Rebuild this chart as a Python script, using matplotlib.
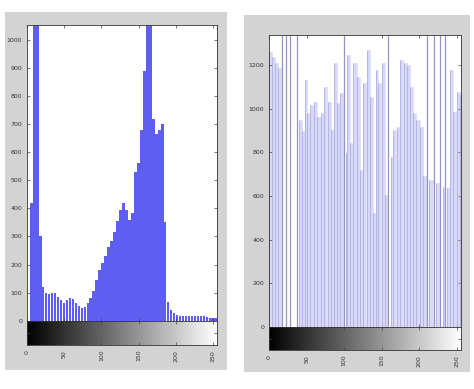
import numpy as np
import matplotlib
matplotlib.use('Agg')
import matplotlib.pyplot as plt
from matplotlib.patches import Rectangle

# 左图：原始图像直方图（每4个灰度级取一个值）
left_levels = list(range(0, 256, 4))
left_counts = [0, 420, 1200, 1200, 300, 120, 100, 95, 100, 100, 85, 74, 63, 72, 82, 78,
               62, 52, 45, 50, 63, 82, 105, 145, 180, 205, 230, 262, 285, 315, 355, 395,
               420, 395, 360, 385, 530, 560, 680, 890, 1200, 1150, 720, 665, 680, 700,
               350, 65, 38, 27, 20, 18, 16, 18, 15, 17, 15, 18, 16, 17, 14, 10, 8, 8]

# 右图：均衡化后的直方图（稀疏的灰度级）
right_levels = [0, 4, 8, 12, 17, 23, 28, 37, 40, 44, 48, 51, 55, 60, 64, 69, 73, 78, 82, 86,
                91, 95, 100, 102, 104, 108, 112, 117, 121, 125, 130, 134, 138, 142, 145, 150,
                154, 158, 162, 165, 170, 174, 179, 183, 187, 192, 196, 201, 205, 210, 213,
                219, 222, 227, 231, 234, 237, 241, 245, 250, 254]
right_counts = [1260, 1235, 1210, 1185, 2000, 2000, 2000, 2000, 948, 897, 1131, 980, 1017,
                1030, 963, 980, 1100, 1030, 902, 1208, 1025, 1070, 2000, 797, 1245, 843, 1208,
                1146, 720, 1117, 1270, 1055, 521, 1177, 1117, 1208, 604, 2000, 779, 902, 916,
                1223, 1208, 1200, 1100, 980, 948, 917, 690, 2000, 673, 2000, 660, 2000, 641,
                2000, 636, 1177, 985, 1078, 1060]

x_ticks = [0, 50, 100, 150, 200, 250]
left_yticks = list(range(0, 1001, 100))
right_yticks = list(range(0, 1201, 200))

W, H = 474, 389
fig = plt.figure(figsize=(W / 100, H / 100), dpi=100)
fig.patch.set_facecolor('white')


def fr(x0, y0, x1, y1):
    # 像素坐标 -> 图窗坐标
    return [x0 / W, 1 - y1 / H, (x1 - x0) / W, (y1 - y0) / H]


def style(ax):
    ax.tick_params(direction='in', length=2.5, width=0.5, colors='#444444',
                   labelsize=4.5, top=True, right=True, labelcolor='#333333')
    for s in ax.spines.values():
        s.set_linewidth(0.6)
        s.set_color('#333333')


# 灰色背景面板
for p in [fr(5, 12, 227, 370), fr(244, 15, 470, 372)]:
    fig.patches.append(Rectangle((p[0], p[1]), p[2], p[3], transform=fig.transFigure,
                                 facecolor='#d3d3d3', edgecolor='none', zorder=-5))

gradient = np.arange(256)[None, :]

# ---- 左图 ----
ax1 = fig.add_axes(fr(27, 25, 216.7, 320.7))
ax1.bar(left_levels, left_counts, width=3.5, align='edge', color='#5e5ef2', linewidth=0)
ax1.set_xlim(0, 255)
ax1.set_ylim(0, 1053)
ax1.set_xticks(x_ticks)
ax1.set_xticklabels([])
ax1.set_yticks(left_yticks)
style(ax1)

cb1 = fig.add_axes(fr(27, 320.7, 216.7, 345))
cb1.imshow(gradient, cmap='gray', aspect='auto', extent=[0, 255, 0, 1])
cb1.set_xlim(0, 255)
cb1.set_xticks(x_ticks)
cb1.set_xticklabels([str(t) for t in x_ticks], rotation=90)
cb1.set_yticks([0.5])
cb1.set_yticklabels([])
style(cb1)

# ---- 右图 ----
ax2 = fig.add_axes(fr(269, 35, 460.8, 327))
top = 1337
lv = np.array(right_levels, dtype=float)
ct = np.array(right_counts, dtype=float)
short = ct < top
gaps = np.minimum(np.diff(np.append(lv, 256)), 4.5)
ax2.bar(lv[short], ct[short], width=gaps[short], align='edge', color='#d8d8f8',
        edgecolor='#d8d8f8', linewidth=0.4)
ax2.vlines(lv[short], 0, ct[short], color='#aeaee0', linewidth=0.6)
ax2.vlines(lv[~short], 0, top, color='#9494c8', linewidth=0.9)
ax2.set_xlim(0, 255)
ax2.set_ylim(0, top)
ax2.set_xticks(x_ticks)
ax2.set_xticklabels([])
ax2.set_yticks(right_yticks)
style(ax2)

cb2 = fig.add_axes(fr(269, 327, 460.8, 350))
cb2.imshow(gradient, cmap='gray', aspect='auto', extent=[0, 255, 0, 1])
cb2.set_xlim(0, 255)
cb2.set_xticks(x_ticks)
cb2.set_xticklabels([str(t) for t in x_ticks], rotation=90)
cb2.set_yticks([0.5])
cb2.set_yticklabels([])
style(cb2)

for ax in [ax1, cb1, ax2, cb2]:
    ax.set_zorder(2)

fig.savefig('out.png', dpi=100)
